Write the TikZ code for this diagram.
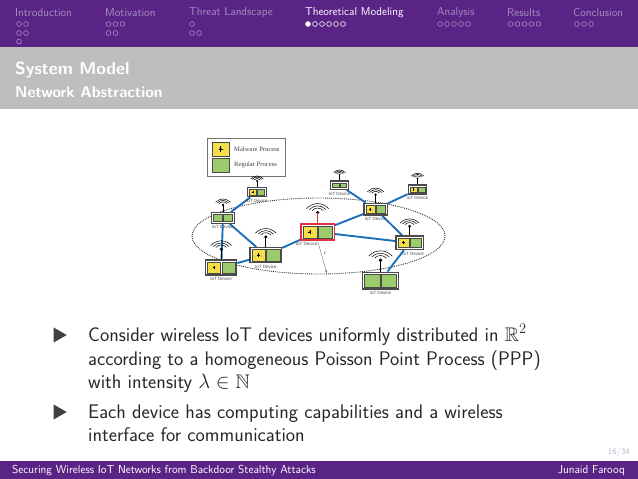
\documentclass[tikz,border=0pt]{standalone}
\usepackage{xcolor}
\usepackage{amsmath,amssymb}
\usepackage{fontspec}
\newfontfamily\legendfont{Liberation Serif}
\newfontfamily\tagfont{Liberation Sans}
\usetikzlibrary{arrows.meta,positioning,shapes.geometric,backgrounds,calc}
\definecolor{slidePurple}{HTML}{5A2386}
\definecolor{slideDim}{HTML}{A78FC0}
\definecolor{slideGray}{HTML}{BEBEBE}
\definecolor{linkBlue}{HTML}{1B6FB8}
\definecolor{procYellow}{HTML}{F5E04A}
\definecolor{procGreen}{HTML}{9CCB6C}
\definecolor{frameGray}{HTML}{4A4A4A}
\definecolor{alertRed}{HTML}{E0303A}
\tikzset{
  navtext/.style={anchor=west,inner sep=0pt,font=\sffamily\fontsize{11.4}{13}\selectfont,text=slideDim},
  navdot/.style={circle,draw=slideDim,line width=0.6pt,minimum size=4.8pt,inner sep=0pt},
  navdoton/.style={navdot,draw=white},
  foottext/.style={anchor=west,inner sep=0pt,font=\sffamily\fontsize{11.5}{13}\selectfont,text=white},
  bodytext/.style={anchor=north west,inner sep=0pt,align=left,font=\sffamily\fontsize{19.7}{23.6}\selectfont,text=black!85},
  bullet/.style={isosceles triangle,isosceles triangle apex angle=60,fill=black!75,minimum size=13pt,inner sep=0pt},
  legendbox/.style={rectangle,draw=black!55,line width=0.7pt,fill=white,minimum width=78.5pt,minimum height=38pt},
  legendtext/.style={anchor=west,inner sep=0pt,font=\legendfont\fontsize{6.6}{8}\selectfont,text=black!75},
  devframe/.style={rectangle,draw=frameGray,fill=white,line width=1.3pt,inner sep=0pt},
  malware/.style={rectangle,draw=frameGray,fill=procYellow,line width=0.5pt,inner sep=0pt},
  regular/.style={rectangle,draw=frameGray,fill=procGreen,line width=0.5pt,inner sep=0pt},
  devlabel/.style={inner sep=0pt,font=\tagfont\fontsize{4.5}{6}\selectfont,text=black!70},
  netlink/.style={draw=linkBlue,line width=1.9pt},
  cellring/.style={ellipse,draw=black!80,densely dotted,line width=0.9pt,minimum width=253pt,minimum height=76pt,inner sep=0pt},
  radiusline/.style={-{Stealth[length=3pt,width=2pt]},draw=black!60,line width=0.35pt}
}
% #1 extra frame style, #2 name, #3 x, #4 y, #5 width, #6 height, #7 left, #8 right, #9 label shift
\newcommand{\iotdevice}[9][]{
  \pgfmathsetmacro{\boxw}{(#5-4)/2-0.5}
  \pgfmathsetmacro{\boxh}{#6-3.5}
  \pgfmathsetmacro{\stemh}{1.3*#6}
  \pgfmathsetmacro{\arcr}{0.7*#6}
  \node[devframe,minimum width=#5pt,minimum height=#6pt,#1] (#2) at (#3,#4) {};
  \node[#7,minimum width=\boxw pt,minimum height=\boxh pt,anchor=east,xshift=-0.4pt] (#2l) at (#2.center) {};
  \node[#8,minimum width=\boxw pt,minimum height=\boxh pt,anchor=west,xshift=0.4pt] (#2r) at (#2.center) {};
  \coordinate (#2top) at ($(#2.north)+(0,-0.52*\stemh)$);
  \draw[black,line width=1pt] (#2.north) -- (#2top);
  \fill[black] (#2top) circle[radius=0.11*#6];
  \foreach \k in {0.5,0.75,1}
    \draw[black,line width=0.5pt] ($(#2top)+(-\k*\arcr,-0.35*\k*\arcr)$) .. controls ($(#2top)+(-0.4*\k*\arcr,-0.95*\k*\arcr)$) and ($(#2top)+(0.4*\k*\arcr,-0.95*\k*\arcr)$) .. ($(#2top)+(\k*\arcr,-0.35*\k*\arcr)$);
  \node[devlabel,below=1.5pt of #2,xshift=#9pt] (#2name) {IoT Device};
}
% black bug on a yellow process box
\newcommand{\bugmark}[2]{
  \draw[orange!85!black,densely dotted,line width=0.35pt] ($(#1)+(-#2*1.1,#2*0.7)$) -- ($(#1)+(0,-#2*0.4)$) -- ($(#1)+(#2*1.1,#2*0.7)$);
  \fill[black] (#1) circle[radius=#2*0.22];
  \draw[black,line width=0.45pt] ($(#1)+(0,#2*0.55)$) -- ($(#1)+(0,-#2*0.55)$) ($(#1)+(-#2*0.4,0)$) -- ($(#1)+(#2*0.4,0)$);
}
\begin{document}
\begin{tikzpicture}[x=1pt,y=-1pt]
  \useasboundingbox (0,0) rectangle (638,479);
  % frame of the slide
  \fill[slidePurple] (0,0) rectangle (638,47);
  \fill[slideGray] (0,47) rectangle (638,109);
  \fill[slidePurple] (0,461) rectangle (638,479);
  \node[navtext] (nav1) at (15,12.5) {Introduction};
  \node[navtext] (nav2) at (105,12.5) {Motivation};
  \node[navtext] (nav3) at (189,12.5) {Threat Landscape};
  \node[navtext,text=white] (nav4) at (305,12.5) {Theoretical Modeling};
  \node[navtext] (nav5) at (437,12.5) {Analysis};
  \node[navtext] (nav6) at (507,12.5) {Results};
  \node[navtext] (nav7) at (573,12.5) {Conclusion};
  \foreach \x/\y in {19/24,26/24,19/33,26/33,19/41.5,
      108.5/24,115.5/24,122.5/24,108.5/33,115.5/33,192/24,192/33,199/33,
      440/24,447/24,454/24,461/24,468/24,
      510.5/24,517.5/24,524.5/24,531.5/24,538.5/24,
      577/24,584/24,591/24}
    \node[navdot] at (\x,\y) {};
  \foreach \x in {315,322,329,336,343}
    \node[navdoton] at (\x,24) {};
  \node[navdoton,fill=white] at (308,24) {};
  \node[anchor=west,inner sep=0pt,text=white,font=\sffamily\bfseries\fontsize{17.4}{20}\selectfont] (title) at (15,70) {System Model};
  \node[anchor=west,inner sep=0pt,text=white,font=\sffamily\bfseries\fontsize{15.6}{18}\selectfont] (subtitle) at (15,92) {Network Abstraction};
  \node[foottext] (foot) at (12,471) {Securing Wireless IoT Networks from Backdoor Stealthy Attacks};
  \node[foottext,anchor=east] (author) at (625,471) {Junaid Farooq};
  \node[anchor=east,inner sep=0pt,text=slideDim!70,font=\sffamily\fontsize{8.5}{10}\selectfont] (page) at (630,452) {16/34};

  % legend
  \node[legendbox] (legend) at (246.2,157) {};
  \node[malware,minimum width=17.5pt,minimum height=14.5pt] (legbad) at (220.5,149) {};
  \node[regular,minimum width=17.5pt,minimum height=14.5pt] (leggood) at (220.5,165) {};
  \node[legendtext,right=4.5pt of legbad] (legbadtext) {Malware Process};
  \node[legendtext,right=4.5pt of leggood] (leggoodtext) {Regular Process};
  \bugmark{legbad}{5}

  % devices
  \iotdevice{devA}{257}{192.2}{18.5}{9}{malware}{regular}{0}
  \iotdevice{devB}{223}{218}{22.6}{10.6}{regular}{regular}{0}
  \iotdevice{devC}{221.2}{267.5}{31}{15}{malware}{regular}{0}
  \iotdevice{devD}{265.8}{255.2}{31.6}{15}{malware}{regular}{0}
  \iotdevice[draw=alertRed]{devE}{317.6}{232}{33.4}{16}{malware}{regular}{-11}
  \iotdevice{devF}{339.5}{185.2}{17.6}{8.4}{regular}{regular}{0}
  \iotdevice{devG}{375.6}{209.2}{23.4}{11.8}{malware}{regular}{0}
  \iotdevice{devH}{417.5}{189.5}{18.4}{9}{malware}{regular}{0}
  \iotdevice{devI}{409.6}{242.7}{27.4}{13.4}{malware}{regular}{3.5}
  \iotdevice{devJ}{380.5}{280.6}{35.6}{16.8}{regular}{regular}{0}
  \foreach \d/\s in {devAl/2,devCl/3.6,devDl/3.6,devEl/3.8,devGl/2.7,devHl/2,devIl/3.2}
    \bugmark{\d}{\s}
  \draw[alertRed,line width=1pt] (devE.north) -- (devEtop);

  \begin{scope}[on background layer]
    \node[cellring] (cell) at (318.5,236) {};
    \draw[netlink] (devA) -- (devB);
    \draw[netlink] (devB) -- (devC);
    \draw[netlink] (devB) -- (devD);
    \draw[netlink] (devC) -- (devD);
    \draw[netlink] (devD) -- (devE);
    \draw[netlink] (devE) -- (devG);
    \draw[netlink] (devE) -- (devI);
    \draw[netlink] (devG) -- (devF);
    \draw[netlink] (devG) -- (devH);
    \draw[netlink] (devG) -- (devI);
    \draw[netlink] (devI) -- (devJ);
  \end{scope}
  \coordinate (rim) at (326.7,273);
  \draw[radiusline] (devE.south) -- (rim);
  \node[inner sep=0pt,font=\legendfont\itshape\fontsize{5}{6}\selectfont] (rlabel) at (325,253) {r};

  % bullet items
  \node[bullet] (bul1) at (58,335) {};
  \node[bullet] (bul2) at (58,412) {};
  \node[bodytext] (item1) at (88,324.5) {Consider wireless IoT devices uniformly distributed in $\mathbb{R}^2$\\according to a homogeneous Poisson Point Process (PPP)\\with intensity $\lambda\in\mathbb{N}$};
  \node[bodytext] (item2) at (88,404.5) {Each device has computing capabilities and a wireless\\interface for communication};
\end{tikzpicture}
\end{document}
